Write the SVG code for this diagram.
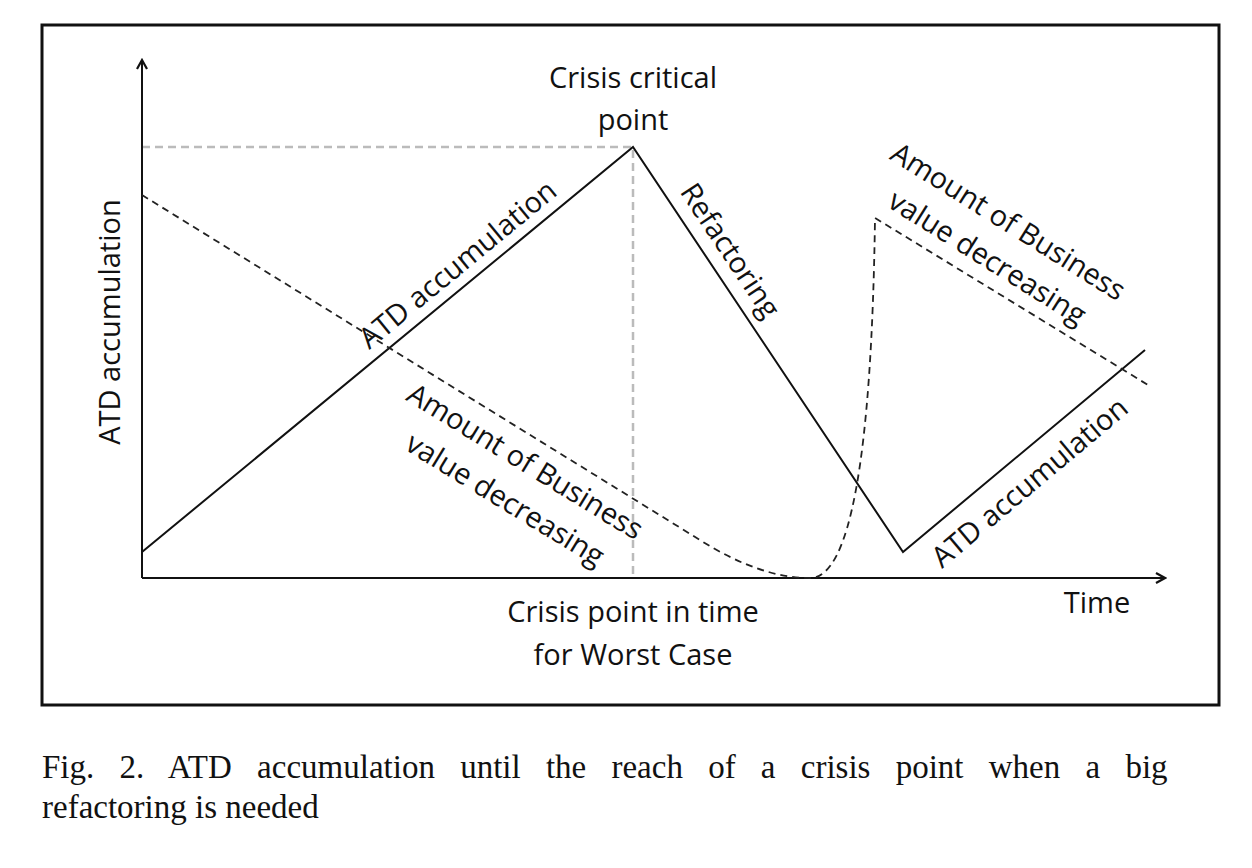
<svg xmlns="http://www.w3.org/2000/svg" width="1252" height="868" viewBox="0 0 1252 868">
<style>
.t{font-family:"Open Sans","Liberation Sans",sans-serif;font-size:29px;fill:#111}
.c{font-family:"Liberation Serif",serif;font-size:33px;fill:#111}
.s{fill:none;stroke:#111;stroke-width:2}
.d{fill:none;stroke:#222;stroke-width:1.8;stroke-dasharray:7 5}
.g{fill:none;stroke:#bbb;stroke-width:2.5;stroke-dasharray:8 5}
</style>
<defs><marker id="a" viewBox="0 0 12 12" refX="10" refY="6" markerWidth="12" markerHeight="12" markerUnits="userSpaceOnUse" orient="auto"><path d="M1,1 L10,6 L1,11" fill="none" stroke="#111" stroke-width="2.2"/></marker></defs>
<rect width="1252" height="868" fill="#fff"/>
<rect x="42" y="25" width="1177" height="680" fill="none" stroke="#111" stroke-width="3"/>
<g id="connectors">
<path class="g" d="M142,147 H633 V578"/>
<path class="s" d="M142,578 V60" marker-end="url(#a)"/>
<path class="s" d="M142,578 H1165" marker-end="url(#a)"/>
<path class="s" d="M142,552 L633,147 L903,552 L1145,350"/>
<path class="d" d="M142,195 L700,540 Q760,578 810,578 Q870,578 875,218 L1148,385"/>
</g>
<g id="labels">
<text class="t" x="120" y="322" text-anchor="middle" transform="rotate(-90 120 322)">ATD accumulation</text>
<text class="t" x="633" y="88" text-anchor="middle">Crisis critical</text>
<text class="t" x="633" y="130" text-anchor="middle">point</text>
<text class="t" x="633" y="622" text-anchor="middle">Crisis point in time</text>
<text class="t" x="633" y="665" text-anchor="middle">for Worst Case</text>
<text class="t" x="1097" y="613" text-anchor="middle">Time</text>
<text class="t" x="464" y="272" text-anchor="middle" transform="rotate(-39.5 464 272)">ATD accumulation</text>
<text class="t" x="722" y="256" text-anchor="middle" transform="rotate(56.3 722 256)">Refactoring</text>
<text class="t" x="520" y="470" text-anchor="middle" transform="rotate(31.5 520 470)">Amount of Business</text>
<text class="t" x="500" y="508" text-anchor="middle" transform="rotate(31.5 500 508)">value decreasing</text>
<text class="t" x="1003" y="230" text-anchor="middle" transform="rotate(32 1003 230)">Amount of Business</text>
<text class="t" x="982" y="266" text-anchor="middle" transform="rotate(32 982 266)">value decreasing</text>
<text class="t" x="1036" y="490" text-anchor="middle" transform="rotate(-40 1036 490)">ATD accumulation</text>
</g>
<text class="c" x="42" y="778" word-spacing="17">Fig. 2.  ATD accumulation until the reach of a crisis point when a big</text>
<text class="c" x="42" y="818">refactoring is needed</text>
</svg>
